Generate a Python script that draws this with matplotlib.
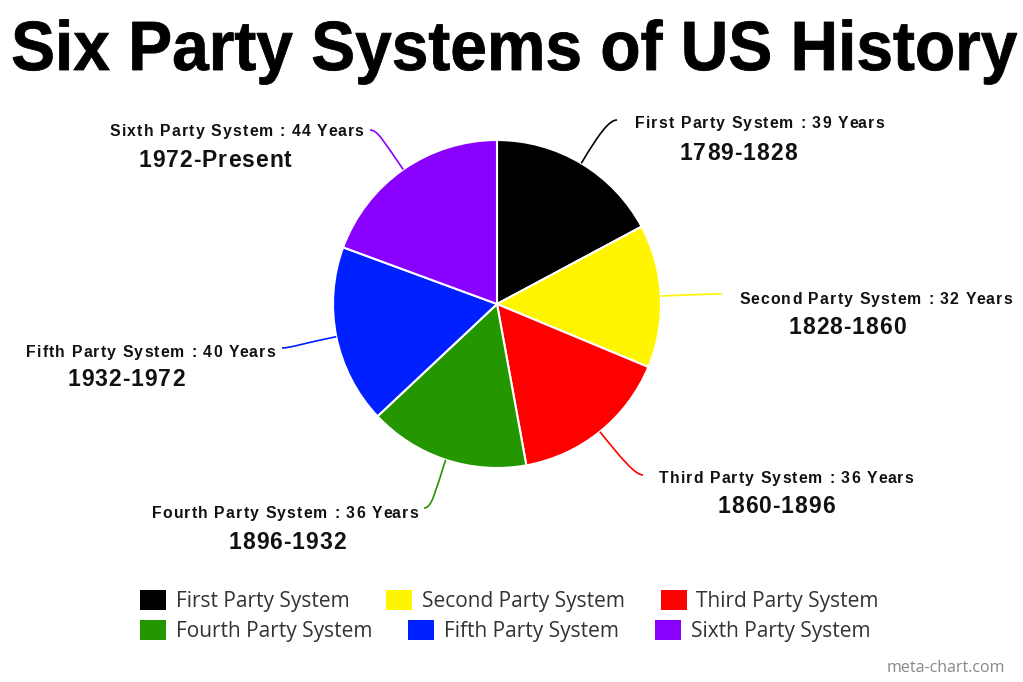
import numpy as np
import matplotlib
matplotlib.use("Agg")
import matplotlib.pyplot as plt
from matplotlib.path import Path
from matplotlib.patches import PathPatch, Rectangle
from matplotlib.font_manager import FontProperties
from matplotlib.textpath import TextPath
from matplotlib.transforms import Affine2D

# data
systems = ["First Party System", "Second Party System", "Third Party System",
           "Fourth Party System", "Fifth Party System", "Sixth Party System"]
years = [39, 32, 36, 36, 40, 44]
periods = ["1789-1828", "1828-1860", "1860-1896", "1896-1932", "1932-1972", "1972-Present"]
colors = ["#000000", "#FFF500", "#FF0000", "#249600", "#0020FF", "#8A00FF"]
title = "Six Party Systems of US History"

# layout in pixels (origin top-left)
W, H = 1023, 682
cx, cy, R = 497, 304, 164
# end of leader line, left x / baseline of first line, centre x / baseline of period
label_pos = [
    dict(end=(617, 120), x1=635, y1=128, x2=738, y2=160),
    dict(end=(722, 294), x1=739, y1=304, x2=847, y2=334),
    dict(end=(643, 475), x1=659, y1=483, x2=776, y2=513),
    dict(end=(424, 508), x1=152, y1=518, x2=287, y2=549),
    dict(end=(282, 348), x1=26, y1=357, x2=126, y2=386),
    dict(end=(370, 130), x1=110, y1=136, x2=215, y2=167),
]

fig = plt.figure(figsize=(W / 100, H / 100), dpi=100)
ax = fig.add_axes([0, 0, 1, 1])

wedges, _ = ax.pie(years, colors=colors, startangle=-90, counterclock=True,
                   center=(cx, cy), radius=R,
                   wedgeprops=dict(edgecolor="white", linewidth=1.5))
ax.set_xlim(0, W)
ax.set_ylim(H, 0)
ax.set_aspect("equal")
ax.axis("off")

fig.canvas.draw()
rend = fig.canvas.get_renderer()


def spaced_text(x, y, s, size, track, ha="left", color="#111111"):
    # Liberation Sans bold with a bit of letter spacing, like the original
    prop = FontProperties(family="Liberation Sans", weight="bold", size=size)

    def tw(t):
        return rend.get_text_width_height_descent(t, prop, ismath=False)[0]
    offs = [tw(s[:k] + "I") - tw("I") + k * track for k in range(len(s))]
    total = tw(s) + (len(s) - 1) * track
    x0 = x - total / 2 if ha == "center" else x
    for ch, o in zip(s, offs):
        if ch != " ":
            ax.text(x0 + o, y, ch, ha="left", va="baseline", fontproperties=prop, color=color)


# leader lines + labels
for w, name, n, per, col, lp in zip(wedges, systems, years, periods, colors, label_pos):
    th = np.deg2rad((w.theta1 + w.theta2) / 2)
    d = np.array([np.cos(th), np.sin(th)])
    p0 = np.array([cx, cy]) + R * d
    c1 = np.array([cx, cy]) + (R + 34) * d
    ex, ey = lp["end"]
    side = 1 if ex > cx else -1
    c2 = np.array([ex - side * 8, ey])
    path = Path([p0, c1, c2, (ex, ey)],
                [Path.MOVETO, Path.CURVE4, Path.CURVE4, Path.CURVE4])
    ax.add_patch(PathPatch(path, fc="none", ec=col, lw=1.2))
    spaced_text(lp["x1"], lp["y1"], f"{name} : {n} Years", 11.3, 1.15)
    spaced_text(lp["x2"], lp["y2"], per, 16.5, 1.0, ha="center")

# title: bold text fitted to the reference box (cap 22..70, x 13..1017)
tprop = FontProperties(family="Liberation Sans", weight="bold")
tp = TextPath((0, 0), title, size=1, prop=tprop)
cap = TextPath((0, 0), "H", size=1, prop=tprop).get_extents().height
ext = tp.get_extents()
sx = (1017 - 13) / ext.width
sy = (70 - 22) / cap
tr = Affine2D().translate(-ext.x0, 0).scale(sx, -sy).translate(13, 70)
ax.add_patch(PathPatch(tp, fc="black", ec="black", lw=0.6, transform=tr + ax.transData))

# legend, flowing left to right in two rows
rows = [(0, 3, 601), (3, 6, 631)]
for i0, i1, y in rows:
    x = 140
    for i in range(i0, i1):
        ax.add_patch(Rectangle((x, y - 11), 26, 20, fc=colors[i], ec="none"))
        t = ax.text(x + 36, y, systems[i], ha="left", va="center",
                    fontsize=15, family="Open Sans", color="#333333")
        bb = t.get_window_extent(renderer=rend)
        x = x + 36 + bb.width + 36

ax.text(1005, 668, "meta-chart.com", ha="right", va="center",
        fontsize=11.5, family="Open Sans", color="#888888")

fig.savefig("out.png", dpi=100)
